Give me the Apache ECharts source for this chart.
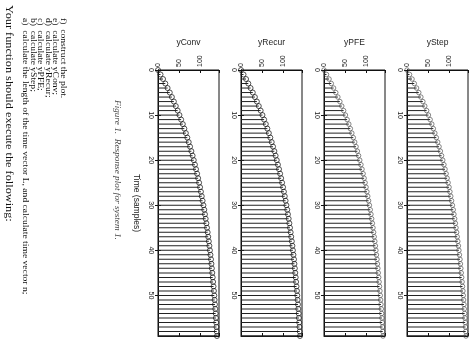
<!DOCTYPE html>
<html><head><meta charset="utf-8">
<script src="https://cdn.jsdelivr.net/npm/echarts@6/dist/echarts.min.js"></script>
<style>html,body{margin:0;padding:0;background:#fff}#c{width:474px;height:364px}</style>
</head><body><div id="c"></div>
<script>
// time samples n = 0..59
const timeSamples = ['0','1','2','3','4','5','6','7','8','9','10','11','12','13','14','15','16','17','18','19','20','21','22','23','24','25','26','27','28','29','30','31','32','33','34','35','36','37','38','39','40','41','42','43','44','45','46','47','48','49','50','51','52','53','54','55','56','57','58','59'];
const valueTicks = [0, 50, 100];
const panelTitles = ['yConv', 'yRecur', 'yPFE', 'yStep'];
const yConv  = [0,6,12,17.4,22.8,28,33,37.7,42.3,46.7,51,55,59,62.6,66.2,69.7,73,76.2,79.3,82.2,85,87.8,90.4,93,95.4,97.7,100,102,104,106,108,110,111.6,113.3,115,116.5,118,119.4,120.8,122.2,123.4,124.7,126,127,128,129,130,131,132,133,133.8,134.6,135.4,136.2,137,137.6,138.3,139,139.6,140.2];
const yRecur = [0,6,12,17.4,22.8,28,33,37.7,42.3,46.7,51,55,59,62.6,66.2,69.7,73,76.2,79.3,82.2,85,87.8,90.4,93,95.4,97.7,100,102,104,106,108,110,111.6,113.3,115,116.5,118,119.4,120.8,122.2,123.4,124.7,126,127,128,129,130,131,132,133,133.8,134.6,135.4,136.2,137,137.6,138.3,139,139.6,140.2];
const yPFE   = [0,6,12,17.4,22.8,28,33,37.7,42.3,46.7,51,55,59,62.6,66.2,69.7,73,76.2,79.3,82.2,85,87.8,90.4,93,95.4,97.7,100,102,104,106,108,110,111.6,113.3,115,116.5,118,119.4,120.8,122.2,123.4,124.7,126,127,128,129,130,131,132,133,133.8,134.6,135.4,136.2,137,137.6,138.3,139,139.6,140.2];
const yStep  = [0,6,12,17.4,22.8,28,33,37.7,42.3,46.7,51,55,59,62.6,66.2,69.7,73,76.2,79.3,82.2,85,87.8,90.4,93,95.4,97.7,100,102,104,106,108,110,111.6,113.3,115,116.5,118,119.4,120.8,122.2,123.4,124.7,126,127,128,129,130,131,132,133,133.8,134.6,135.4,136.2,137,137.6,138.3,139,139.6,140.2];
const docLines = [
  'a)  calculate the length of the time vector L, and calculate time vector n;',
  'b)  calculate yStep;',
  'c)  calculate yPFE;',
  'd)  calculate yRecur;',
  'e)  calculate yConv;',
  'f)  construct the plot.'
];
const docHeading = 'Your function should execute the following:';
const caption = 'Figure 1.  Response plot for system 1.';

const seriesData = [yConv, yRecur, yPFE, yStep];
const gridLefts = [158, 241, 324, 407];
const gridWidth = 61;
const VMAX = 145;
const plotFont = 'Liberation Sans';
const grids = [], xAxes = [], yAxes = [], series = [];
gridLefts.forEach((l, i) => {
  grids.push({left: l, top: 70, width: gridWidth, height: 266, show: true, borderColor: '#111', borderWidth: 1, backgroundColor: 'transparent'});
  xAxes.push({type: 'value', gridIndex: i, position: 'top', min: 0, max: VMAX, interval: 50,
    name: panelTitles[i], nameLocation: 'middle', nameGap: 16,
    nameTextStyle: {fontFamily: plotFont, fontSize: 8.5, color: '#222'},
    axisLine: {show: true, lineStyle: {color: '#111', width: 1}},
    axisTick: {show: true, inside: true, length: 3, lineStyle: {color: '#111'}},
    splitLine: {show: false},
    axisLabel: {rotate: -90, fontFamily: plotFont, fontSize: 7, color: '#222', margin: 3,
      formatter: v => valueTicks.indexOf(v) >= 0 ? String(v) : ''}});
  xAxes.push({type: 'value', gridIndex: i, position: 'bottom', min: 0, max: VMAX, interval: 50,
    axisLine: {show: true, lineStyle: {color: '#111', width: 1}},
    axisTick: {show: true, inside: true, length: 3, lineStyle: {color: '#111'}},
    splitLine: {show: false}, axisLabel: {show: false}});
  yAxes.push({type: 'category', gridIndex: i, data: timeSamples, boundaryGap: false, inverse: true, position: 'left',
    name: i === 0 ? 'Time (samples)' : '', nameLocation: 'middle', nameGap: 17, nameRotate: -90,
    nameTextStyle: {fontFamily: plotFont, fontSize: 8.5, color: '#222'},
    axisLine: {show: true, lineStyle: {color: '#111', width: 1}},
    axisTick: {show: true, inside: true, length: 3, interval: 9, lineStyle: {color: '#111'}},
    axisLabel: {rotate: -90, interval: 9, fontFamily: plotFont, fontSize: 7, color: '#222', margin: 4}});
  yAxes.push({type: 'category', gridIndex: i, data: timeSamples, boundaryGap: false, inverse: true, position: 'right',
    axisLine: {show: true, lineStyle: {color: '#111', width: 1}},
    axisTick: {show: true, inside: true, length: 3, interval: 9, lineStyle: {color: '#111'}},
    axisLabel: {show: false}});
  series.push({type: 'bar', xAxisIndex: 2 * i, yAxisIndex: 2 * i, data: seriesData[i], barWidth: 1,
    itemStyle: {color: '#222'}, silent: true, animation: false});
  series.push({type: 'scatter', xAxisIndex: 2 * i, yAxisIndex: 2 * i,
    data: seriesData[i].map((v, k) => [v, k]), symbol: 'circle', symbolSize: i < 2 ? 5 : 4.5,
    itemStyle: {color: 'transparent', borderColor: i < 2 ? '#111' : '#444', borderWidth: i < 2 ? 0.9 : 0.8},
    silent: true, animation: false});
});

const graphics = [];
function vtext(x, y, text, size, stretch, opts) {
  graphics.push({type: 'text', x: x, y: y, rotation: -Math.PI / 2, scaleX: stretch, scaleY: 1,
    style: Object.assign({text: text, fontFamily: 'Liberation Serif', fontSize: size, fill: '#111',
      textAlign: 'left', textVerticalAlign: 'middle'}, opts || {})});
}
vtext(9, 5, docHeading, 10.5, 1.17);
const lineX = [25.5, 33, 40.5, 48, 55.5, 63];
docLines.forEach((t, k) => vtext(lineX[k], 18, t, 8, 1.2));
vtext(117, 100, caption, 7.6, 1.22, {fontStyle: 'italic', fill: '#444'});

const chart = echarts.init(document.getElementById('c'), null, {renderer: 'canvas'});
chart.setOption({animation: false, backgroundColor: '#fff', grid: grids, xAxis: xAxes, yAxis: yAxes, series: series, graphic: graphics});
</script></body></html>
